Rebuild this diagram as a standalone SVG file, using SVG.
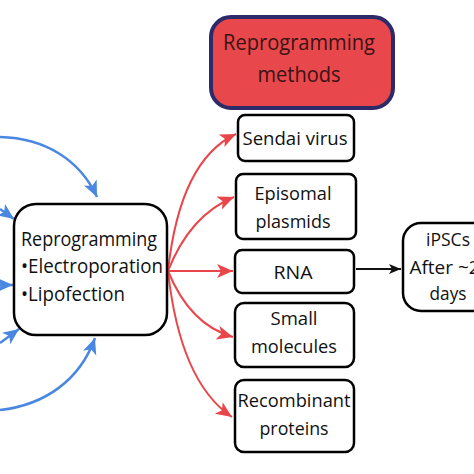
<svg xmlns="http://www.w3.org/2000/svg" width="474" height="474" viewBox="0 0 474 474">
<style>
.box{fill:#fff;stroke:#000;stroke-width:2.5}
.t{font-family:"Open Sans","Noto Sans",sans-serif;font-size:19px;fill:#111;text-anchor:middle}
.tl{font-family:"Open Sans","Noto Sans",sans-serif;font-size:20px;fill:#111}
.blue{fill:none;stroke:#4a87e0;stroke-width:2.5}
.red{fill:none;stroke:#e8464a;stroke-width:2}
.blk{fill:none;stroke:#111;stroke-width:1.8}
</style>
<defs>
<marker id="mb" markerUnits="userSpaceOnUse" markerWidth="18" markerHeight="16" refX="16" refY="7" orient="auto"><path d="M0,0 L16,7 L0,14 L4,7 z" fill="#4a87e0"/></marker>
<marker id="mr" markerUnits="userSpaceOnUse" markerWidth="18" markerHeight="16" refX="16" refY="7" orient="auto"><path d="M0,0 L16,7 L0,14 L4,7 z" fill="#e8464a"/></marker>
<marker id="mk" markerUnits="userSpaceOnUse" markerWidth="14" markerHeight="12" refX="12" refY="5" orient="auto"><path d="M0,0 L12,5 L0,10 L3,5 z" fill="#111"/></marker>
</defs>
<rect width="474" height="474" fill="#fff"/>
<g id="connectors">
<path class="blue" d="M0,137 C45,138 80,160 97,197" marker-end="url(#mb)"/>
<path class="blue" d="M0,209 L14,219" marker-end="url(#mb)"/>
<path class="blue" d="M0,285 L13,285" marker-end="url(#mb)"/>
<path class="blue" d="M0,343 L19,329" marker-end="url(#mb)"/>
<path class="blue" d="M0,410 C45,405 80,380 95,338" marker-end="url(#mb)"/>
<path class="red" d="M168,271 Q180,160 236,134" marker-end="url(#mr)"/>
<path class="red" d="M168,271 Q190,215 234,197" marker-end="url(#mr)"/>
<path class="red" d="M168,271 L233,271" marker-end="url(#mr)"/>
<path class="red" d="M168,271 Q190,325 233,337" marker-end="url(#mr)"/>
<path class="red" d="M168,271 Q180,382 232,417" marker-end="url(#mr)"/>
<path class="blk" d="M356,269 L401,269" marker-end="url(#mk)"/>
</g>
<g id="header">
<rect x="211" y="17" width="182" height="91" rx="20" fill="#e8474b" stroke="#2d2a6a" stroke-width="4"/>
<text class="t" x="299" y="50" style="font-size:21px;fill:#3a1414" textLength="152" lengthAdjust="spacingAndGlyphs">Reprogramming</text>
<text class="t" x="299" y="82" style="font-size:21px;fill:#3a1414" textLength="83" lengthAdjust="spacingAndGlyphs">methods</text>
</g>
<g id="central">
<rect class="box" x="14" y="204" width="153" height="131" rx="22"/>
<text class="tl" x="21" y="246" textLength="136" lengthAdjust="spacingAndGlyphs">Reprogramming</text>
<text class="tl" x="21" y="273" textLength="142" lengthAdjust="spacingAndGlyphs">•Electroporation</text>
<text class="tl" x="21" y="301" textLength="104" lengthAdjust="spacingAndGlyphs">•Lipofection</text>
</g>
<g id="sendai">
<rect class="box" x="238" y="115" width="116" height="46" rx="7"/>
<text class="t" x="295" y="145" textLength="105" lengthAdjust="spacingAndGlyphs">Sendai virus</text>
</g>
<g id="episomal">
<rect class="box" x="236" y="174" width="120" height="65" rx="7"/>
<text class="t" x="293" y="200" textLength="77" lengthAdjust="spacingAndGlyphs">Episomal</text>
<text class="t" x="293" y="228" textLength="75" lengthAdjust="spacingAndGlyphs">plasmids</text>
</g>
<g id="rna">
<rect class="box" x="235" y="250" width="119" height="43" rx="7"/>
<text class="t" x="293" y="279" textLength="39" lengthAdjust="spacingAndGlyphs">RNA</text>
</g>
<g id="small">
<rect class="box" x="235" y="303" width="119" height="64" rx="9"/>
<text class="t" x="294" y="325" textLength="47" lengthAdjust="spacingAndGlyphs">Small</text>
<text class="t" x="294" y="353" textLength="86" lengthAdjust="spacingAndGlyphs">molecules</text>
</g>
<g id="recombinant">
<rect class="box" x="235" y="380" width="119" height="72" rx="9"/>
<text class="t" x="294" y="407" textLength="113" lengthAdjust="spacingAndGlyphs">Recombinant</text>
<text class="t" x="294" y="435" textLength="69" lengthAdjust="spacingAndGlyphs">proteins</text>
</g>
<g id="ipscs">
<rect class="box" x="403" y="223" width="110" height="88" rx="18"/>
<text class="t" x="448" y="246" textLength="44" lengthAdjust="spacingAndGlyphs">iPSCs</text>
<text class="t" x="450" y="274">After ~21</text>
<text class="t" x="448" y="300" textLength="37" lengthAdjust="spacingAndGlyphs">days</text>
</g>
</svg>
